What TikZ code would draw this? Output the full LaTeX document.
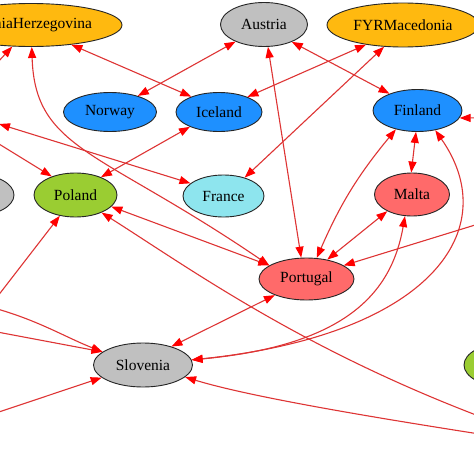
\documentclass[tikz,border=0pt]{standalone}
\usepackage{fontspec}
\setmainfont{Liberation Serif}
\usetikzlibrary{arrows.meta,shapes.geometric}
\definecolor{edgecol}{RGB}{222,52,52}
\definecolor{orangec}{RGB}{255,185,15}
\definecolor{grayc}{RGB}{192,192,192}
\definecolor{bluec}{RGB}{30,144,255}
\definecolor{greenc}{RGB}{154,205,50}
\definecolor{cyanc}{RGB}{142,229,238}
\definecolor{redc}{RGB}{255,106,106}
\begin{document}
\begin{tikzpicture}[x=1pt,y=-1pt,
  nd/.style={ellipse, draw=black!85, line width=0.9pt, inner sep=0pt,
    font=\fontsize{15.5}{18}\selectfont},
  edge/.style={draw=edgecol, line width=1.1pt, {Triangle[length=11pt,width=8pt,color=red]}-{Triangle[length=11pt,width=8pt,color=red]}}
]
\useasboundingbox (0,0) rectangle (474,474);
\clip (0,0) rectangle (474,474);
\fill[white] (0,0) rectangle (474,474);
% nodes
\node[nd, fill=orangec, minimum width=182pt, minimum height=43pt] (bos) at (31,25) {BosniaHerzegovina};
\node[nd, fill=grayc, minimum width=87pt, minimum height=44pt] (aus) at (264,24.5) {Austria};
\node[nd, fill=orangec, minimum width=152pt, minimum height=44pt] (fyr) at (403,25) {FYRMacedonia};
\node[nd, fill=bluec, minimum width=93pt, minimum height=39pt] (nor) at (110,112) {Norway};
\node[nd, fill=bluec, minimum width=86pt, minimum height=39pt] (ice) at (219,112) {Iceland};
\node[nd, fill=bluec, minimum width=89pt, minimum height=42pt] (fin) at (417.5,110.5) {Finland};
\node[nd, fill=greenc, minimum width=83pt, minimum height=44pt] (pol) at (75.5,195) {Poland};
\node[nd, fill=cyanc, minimum width=81pt, minimum height=42pt] (fra) at (223.5,196) {France};
\node[nd, fill=redc, minimum width=75pt, minimum height=43pt] (mal) at (412,194.5) {Malta};
\node[nd, fill=redc, minimum width=95pt, minimum height=42pt] (por) at (306.5,279) {Portugal};
\node[nd, fill=grayc, minimum width=99pt, minimum height=44pt] (slo) at (143,365) {Slovenia};
\node[nd, fill=grayc, minimum width=80pt, minimum height=42pt] (lgr) at (-26,195) {};
\node[nd, fill=greenc, minimum width=84pt, minimum height=44pt] (rgr) at (506,365) {};
% off-picture ends
\coordinate (xl1) at (-40,103);
\coordinate (xl2) at (-1,124);
\coordinate (xl3) at (-40,120);
\coordinate (xl5) at (-40,345);
\coordinate (xl6) at (-40,300);
\coordinate (xl7) at (-40,325);
\coordinate (xl8) at (-40,425);
\coordinate (xr1) at (530,118);
\coordinate (xr2) at (540,205);
\coordinate (xr3) at (570,448);
% edges
\draw[edge] (bos.-26) -- (ice.151);
\draw[edge] (aus.211) -- (nor.30);
\draw[edge] (aus.-32) -- (fin.149);
\draw[edge] (fyr.208) -- (ice.28);
\draw[edge] (fyr.-131) -- (fra.41);
\draw[edge] (aus.-80) -- (por.104);
\draw[edge] (ice.-153) -- (pol.35);
\draw[edge] (fin.-139) to[bend right=8] (por.64);
\draw[edge] (fin.-94) -- (mal.92);
\draw[edge] (mal.-146) -- (por.43);
\draw[edge] (fin.-48) .. controls (505,230) and (430,335) .. (slo.6);
\draw[edge] (mal.-108) .. controls (392,290) and (350,345) .. (slo.6);
\draw[edge] (por.-153) -- (slo.33);
\draw[edge] (bos.-88) .. controls (35,150) and (100,150) .. (por.160);
\draw[edge] (pol.-18) -- (por.160);
\draw[edge] (pol.-34) .. controls (200,275) and (330,370) .. (xr3);
\draw[edge] (slo.-16) .. controls (260,400) and (420,425) .. (xr3);
\draw[edge] (bos.-131) -- (xl1);
\draw[edge] (fra.159) -- (xl2);
\draw[edge] (pol.142) -- (xl3);
\draw[edge] (pol.-127) -- (xl5);
\draw[edge] (slo.162) .. controls (60,335) and (30,315) .. (xl6);
\draw[edge] (slo.162) -- (xl7);
\draw[edge] (slo.197) -- (xl8);
\draw[edge] (fin.-10) -- (xr1);
\draw[edge] (por.20) -- (xr2);
\end{tikzpicture}
\end{document}
